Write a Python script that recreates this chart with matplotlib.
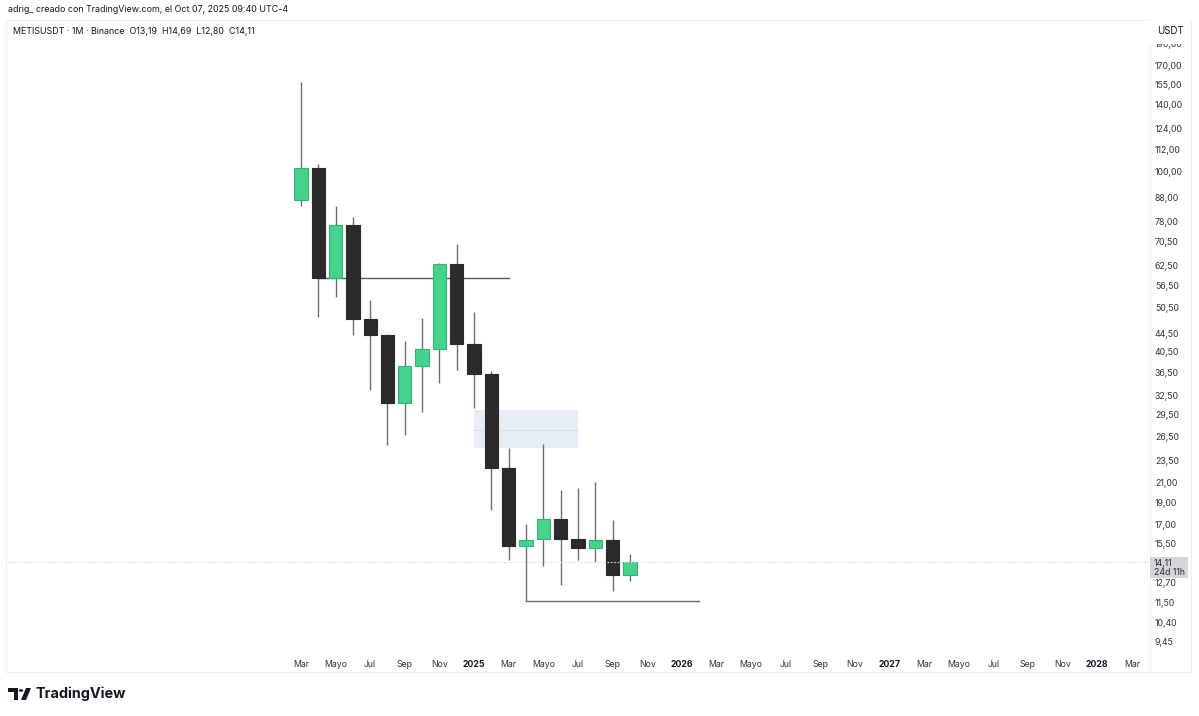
import matplotlib
matplotlib.use("Agg")
import matplotlib.pyplot as plt
import matplotlib.transforms as mtransforms
from matplotlib.patches import Rectangle, Circle, Polygon
from matplotlib.ticker import NullLocator
import numpy as np

plt.rcParams['font.family'] = ['Inter', 'DejaVu Sans']

# ---------------- data ----------------
months = ["2024-03", "2024-04", "2024-05", "2024-06", "2024-07", "2024-08", "2024-09",
          "2024-10", "2024-11", "2024-12", "2025-01", "2025-02", "2025-03", "2025-04",
          "2025-05", "2025-06", "2025-07", "2025-08", "2025-09", "2025-10"]
opens  = [86.8, 102.0, 58.6, 76.6, 47.7, 44.0, 31.3, 37.7, 41.0, 62.9,
          42.1, 36.2, 22.6, 15.3, 15.8, 17.5, 15.8, 15.1, 15.75, 13.19]
highs  = [157.0, 103.8, 84.3, 79.8, 52.5, 44.2, 42.8, 48.1, 63.4, 69.5,
          49.5, 36.8, 25.0, 17.1, 25.5, 20.2, 20.5, 21.1, 17.4, 14.69]
lows   = [84.2, 48.2, 53.4, 44.0, 33.5, 25.4, 26.7, 30.0, 34.6, 37.0,
          30.5, 18.3, 14.25, 11.6, 13.8, 12.6, 14.25, 14.1, 12.2, 12.80]
closes = [102.0, 58.6, 76.6, 47.7, 44.0, 31.3, 37.7, 41.0, 62.9, 42.1,
          36.2, 22.6, 15.3, 15.75, 17.5, 15.8, 15.1, 15.75, 13.19, 14.11]

price_ticks = [190, 170, 155, 140, 124, 112, 100, 88, 78, 70.5, 62.5, 56.5, 50.5,
               44.5, 40.5, 36.5, 32.5, 29.5, 26.5, 23.5, 21, 19, 17, 15.5,
               12.7, 11.5, 10.4, 9.45]
time_labels = ["Mar", "Mayo", "Jul", "Sep", "Nov", "2025",
               "Mar", "Mayo", "Jul", "Sep", "Nov", "2026",
               "Mar", "Mayo", "Jul", "Sep", "Nov", "2027",
               "Mar", "Mayo", "Jul", "Sep", "Nov", "2028", "Mar"]

last_price = 14.11
countdown = "24d 11h"

# drawings
resist_level = 58.6
resist_from, resist_to = "2024-04", "2025-03"
support_level = 11.6
support_from, support_to = "2025-04", "2026-02"
zone_low, zone_mid, zone_high = 25.0, 27.4, 30.3
zone_from, zone_to = "2025-01", "2025-07"

# ---------------- helpers ----------------
def midx(s):
    y, m = s.split("-")
    return (int(y) - 2024) * 12 + (int(m) - 3)

x = np.array([midx(m) for m in months])
o = np.array(opens); h = np.array(highs); l = np.array(lows); c = np.array(closes)
up = c >= o

W, H = 1199, 716
fig = plt.figure(figsize=(W / 100, H / 100), dpi=100)
fig.patch.set_facecolor("white")

def fx(px):
    return px / W
def fy(py):
    return 1 - py / H

ax_l, ax_r, ax_t, ax_b = 7, 1149, 22, 652
ax = fig.add_axes([ax_l / W, 1 - ax_b / H, (ax_r - ax_l) / W, (ax_b - ax_t) / H])
ax.set_yscale("log")
ax.set_xlim(-16.98, 48.99)
ax.set_ylim(8.98, 212.0)
ax.set_facecolor("white")
for s in ax.spines.values():
    s.set_visible(False)

# zone rectangle
zx0, zx1 = midx(zone_from), midx(zone_to)
ax.add_patch(Rectangle((zx0, zone_low), zx1 - zx0, zone_high - zone_low,
                       facecolor="#e6edf6", edgecolor="none", zorder=1))
ax.plot([zx0, zx1], [zone_mid, zone_mid], color="#d6dfea", lw=0.8, zorder=1.1)

# horizontal lines
ax.plot([midx(resist_from), midx(resist_to)], [resist_level, resist_level],
        color="#5a5a5a", lw=1.0, zorder=1.5)
ax.plot([midx(support_from), midx(support_to)], [support_level, support_level],
        color="#6a6a6a", lw=1.0, zorder=1.5)

# wicks
ax.vlines(x, l, h, color="#6e6e6e", lw=1.0, zorder=2)
# bodies
bw = 0.77
up_face, up_edge = "#44d28c", "#32b574"
dn_face, dn_edge = "#2a2a2a", "#2a2a2a"
bottoms = np.minimum(o, c)
heights = np.abs(c - o)
ax.bar(x[up], heights[up], bottom=bottoms[up], width=bw,
       color=up_face, edgecolor=up_edge, linewidth=0.8, zorder=3)
ax.bar(x[~up], heights[~up], bottom=bottoms[~up], width=bw,
       color=dn_face, edgecolor=dn_edge, linewidth=0.8, zorder=3)

# current price line
ax.axhline(last_price, color="#dedede", lw=0.8, ls=(0, (1.5, 1.5)), zorder=4)

# y axis on right
ax.yaxis.tick_right()
ax.yaxis.set_minor_locator(NullLocator())
ax.set_yticks(price_ticks)
ax.set_yticklabels([f"{v:.2f}".replace(".", ",") for v in price_ticks])
ax.tick_params(axis="y", length=0, pad=4.2, labelsize=6.3, labelcolor="#333333")
for lab in ax.get_yticklabels():
    lab.set_horizontalalignment("left")

# x axis
ax.set_xticks(np.arange(0, 49, 2))
ax.set_xticklabels(time_labels)
ax.tick_params(axis="x", length=0, pad=5.5, labelsize=6.3, labelcolor="#333333")
for lab in ax.get_xticklabels():
    if lab.get_text().isdigit():
        lab.set_fontweight("bold")
        lab.set_color("#131722")

# current price label box
trans = mtransforms.blended_transform_factory(fig.transFigure, ax.transData)
y_last_px = ax.transData.transform((0, last_price))[1]
fig.patches.append(Rectangle((fx(1150), fy(578)), 38 / W, 21 / H,
                             transform=fig.transFigure, facecolor="#d4d5d8",
                             edgecolor="none", zorder=8))
fig.text(fx(1154), fy(563), f"{last_price:.2f}".replace(".", ","), ha="left",
         va="center", fontsize=6.3, color="#2a2a2a", zorder=9)
fig.text(fx(1154), fy(572.5), countdown, ha="left", va="center",
         fontsize=6.3, color="#2a2a2a", zorder=9)

# USDT header box covering top label
fig.patches.append(Rectangle((fx(1150), fy(44)), 40 / W, 24 / H,
                             transform=fig.transFigure, facecolor="white",
                             edgecolor="none", zorder=5))
fig.text(fx(1170), fy(31), "USDT", ha="center", va="center",
         fontsize=7, color="#131722", zorder=6)

# panel frame and separators
fig.patches.append(Rectangle((fx(6), fy(672)), 1185 / W, 652 / H,
                             transform=fig.transFigure, facecolor="none",
                             edgecolor="#eeeeee", lw=0.8, zorder=0))
fig.add_artist(plt.Line2D([fx(1149.5), fx(1149.5)], [fy(672), fy(20)],
                          color="#eeeeee", lw=0.8))

# header texts
fig.text(fx(8), fy(10), "adrig_ creado con TradingView.com, el Oct 07, 2025 09:40 UTC-4",
         ha="left", va="center", fontsize=6.4, color="#131722")
fig.text(fx(13), fy(31), "METISUSDT · 1M · Binance  O13,19  H14,69  L12,80  C14,11",
         ha="left", va="center", fontsize=6.4, color="#131722")

# TradingView logo
fig.patches.append(Polygon([(fx(8), fy(688)), (fx(18), fy(688)), (fx(18), fy(700)),
                            (fx(14), fy(700)), (fx(14), fy(692)), (fx(8), fy(692))],
                           closed=True, transform=fig.transFigure,
                           facecolor="#131722", edgecolor="none"))
fig.patches.append(Circle((fx(21), fy(690.5)), 2.2 / W, transform=fig.transFigure,
                          facecolor="#131722", edgecolor="none"))
fig.patches.append(Polygon([(fx(26), fy(688)), (fx(31), fy(688)), (fx(26), fy(700)),
                            (fx(21), fy(700))],
                           closed=True, transform=fig.transFigure,
                           facecolor="#131722", edgecolor="none"))
fig.text(fx(36), fy(693.5), "TradingView", ha="left", va="center",
         fontsize=10.4, fontweight="bold", color="#131722")

fig.savefig("out.png", dpi=100, facecolor="white")
